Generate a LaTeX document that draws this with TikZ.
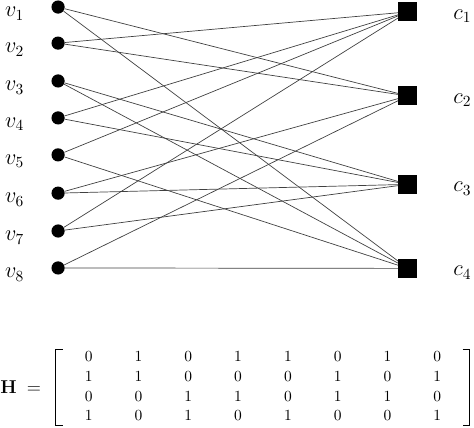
\documentclass[tikz,border=0pt]{standalone}
\usepackage{amsmath}
\usetikzlibrary{positioning}

\tikzset{
	varnode/.style={circle, fill=black, inner sep=0pt, minimum size=0.3cm},
	chknode/.style={rectangle, fill=black, inner sep=0pt, minimum size=0.43cm},
	lbl/.style={anchor=west, inner sep=0pt, font=\Large},
	edge/.style={black!75, line width=0.45pt},
	bracket/.style={black, line width=1.1pt}
}

\begin{document}
\begin{tikzpicture}
		\useasboundingbox (0,0) rectangle (10.773,-9.705);

		% Variable nodes
		\foreach \i/\y in {1/-0.16, 2/-0.98, 3/-1.84, 4/-2.68, 5/-3.52, 6/-4.39, 7/-5.25, 8/-6.09} {
			\node [varnode] (v\i) at (1.32,\y) {};
			\node [lbl] (lv\i) at (0.11,\y-0.15) {$v_{\i}$};
		}

		% Check nodes
		\foreach \j/\y in {1/-0.27, 2/-2.18, 3/-4.19, 4/-6.10} {
			\node [chknode] (c\j) at (9.27,\y) {};
			\node [lbl] (lc\j) at (10.3,\y-0.1) {$c_{\j}$};
		}

		% Edges of the Tanner graph
		\foreach \j/\list in {1/{2,4,5,7}, 2/{1,2,6,8}, 3/{3,4,6,7}, 4/{1,3,5,8}} {
			\foreach \i in \list {
				\draw [edge] (v\i) -- (c\j);
			}
		}

		% Parity check matrix
		\node [inner sep=0pt] (hmat) at (5.977,-8.8) {%
			$\renewcommand{\arraystretch}{1.07}\setlength{\arraycolsep}{13.6pt}
			\begin{array}{@{}cccccccc@{}}
				0 & 1 & 0 & 1 & 1 & 0 & 1 & 0\\
				1 & 1 & 0 & 0 & 0 & 1 & 0 & 1\\
				0 & 0 & 1 & 1 & 0 & 1 & 1 & 0\\
				1 & 0 & 1 & 0 & 1 & 0 & 0 & 1
			\end{array}$};
		\draw [bracket] ([xshift=-0.5cm,yshift=-0.05cm]hmat.north west) -- ++(-0.16,0)
			|- ([xshift=-0.5cm,yshift=0.04cm]hmat.south west);
		\draw [bracket] ([xshift=0.48cm,yshift=-0.05cm]hmat.north east) -- ++(0.16,0)
			|- ([xshift=0.48cm,yshift=0.04cm]hmat.south east);
		\node [anchor=west, inner sep=0pt, font=\fontsize{13pt}{15pt}\selectfont] (hname) at (0,-8.8) {$\mathbf{H}\;=$};

	\end{tikzpicture}
\end{document}
